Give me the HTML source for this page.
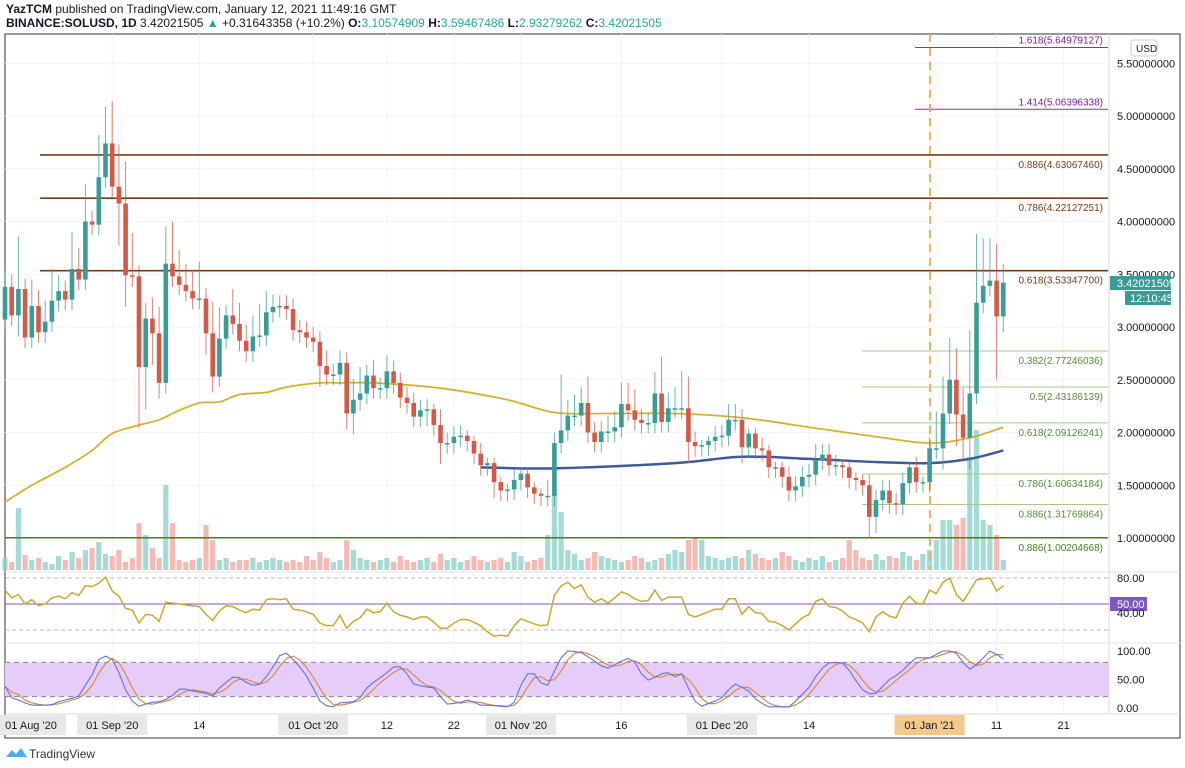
<!DOCTYPE html>
<html><head><meta charset="utf-8"><style>
body{margin:0;background:#fff;width:1185px;height:768px;overflow:hidden;font-family:"Liberation Sans",sans-serif}
svg{display:block}
</style></head><body>
<svg id="c" width="1185" height="768" xmlns="http://www.w3.org/2000/svg" font-family="Liberation Sans, sans-serif">
<text x="6" y="13" font-size="12" fill="#131722"><tspan font-weight="bold">YazTCM</tspan> published on TradingView.com, January 12, 2021 11:49:16 GMT</text>
<text x="6" y="27" font-size="12" fill="#131722"><tspan font-weight="bold">BINANCE:SOLUSD, 1D</tspan> 3.42021505 <tspan fill="#26a69a">▲</tspan> +0.31643358 (+10.2%) <tspan font-weight="bold">O:</tspan><tspan fill="#26a69a">3.10574909</tspan> <tspan font-weight="bold">H:</tspan><tspan fill="#26a69a">3.59467486</tspan> <tspan font-weight="bold">L:</tspan><tspan fill="#26a69a">2.93279262</tspan> <tspan font-weight="bold">C:</tspan><tspan fill="#26a69a">3.42021505</tspan></text>
<rect x="5" y="34" width="1175" height="704" fill="none" stroke="#555" stroke-width="1.2"/>
<line x1="1109" y1="34" x2="1109" y2="714" stroke="#d8d8d8"/>
<line x1="5" y1="572" x2="1180" y2="572" stroke="#e0e3eb"/>
<line x1="5" y1="643" x2="1180" y2="643" stroke="#e0e3eb"/>
<line x1="5" y1="714" x2="1180" y2="714" stroke="#d8d8d8"/>
<g id="grid"></g><g id="vol"></g><g id="levels"></g><g id="ma"></g><g id="candles"></g><g id="rsi"></g><g id="stoch"></g><g id="axes"></g>
<g>
<path d="M6 757 l6-7 4 4 5-6 6 9z" fill="#2196f3" opacity="0.8"/>
<text x="29" y="758" font-size="12" fill="#333">TradingView</text></g>
</svg>
<script>
const NS="http://www.w3.org/2000/svg";
const closes=[3.38,3.11,3.36,2.9,3.2,2.95,3.05,3.25,3.34,3.26,3.55,3.45,4.0,3.97,4.42,4.74,4.33,4.17,3.49,3.48,2.62,3.08,2.94,2.47,3.6,3.48,3.4,3.34,3.27,3.27,2.94,2.53,2.89,3.11,3.03,2.87,2.77,2.91,2.92,3.14,3.19,3.2,3.17,2.97,2.95,2.9,2.86,2.63,2.55,2.55,2.66,2.18,2.31,2.37,2.54,2.42,2.42,2.58,2.47,2.33,2.28,2.15,2.21,2.22,2.07,1.9,1.9,1.96,1.97,1.92,1.8,1.69,1.71,1.53,1.45,1.46,1.55,1.61,1.48,1.42,1.4,1.4,1.9,2.02,2.16,2.16,2.28,2.0,1.91,2.01,2.01,2.05,2.27,2.21,2.12,2.09,2.09,2.37,2.1,2.23,2.23,2.23,1.91,1.87,1.88,1.92,1.96,1.97,2.12,2.12,1.86,1.99,1.85,1.83,1.67,1.67,1.58,1.45,1.49,1.58,1.6,1.74,1.79,1.69,1.69,1.67,1.57,1.55,1.5,1.2,1.36,1.45,1.33,1.32,1.52,1.67,1.53,1.53,1.85,1.85,2.18,2.5,2.17,1.95,2.37,3.23,3.39,3.44,3.1,3.42];
const firstOpen=3.07;
const upWick=[.15,.12,.5,.1,.25,.15,.2,.3,.15,.1,.35,.2,.35,.1,.4,.35,.4,.4,.4,.4,.1,.15,.2,.25,.35,.4,.25,.2,.2,.35,.1,.3,.3,.1,.25,.2,.15,.2,.3,.2,.12,.1,.1,.1,.1,.1,.1,.1,.15,.1,.12,.1,.2,.25,.1,.15,.1,.15,.1,.1,.1,.1,.1,.1,.05,.15,.1,.1,.1,.05,.05,.1,.05,.05,.05,.05,.1,.05,.05,.05,.05,.15,.1,.53,.15,.2,.15,.25,.1,.1,.15,.15,.2,.2,.2,.1,.1,.2,.35,.15,.2,.35,.3,.1,.05,.05,.1,.1,.15,.15,.1,.05,.05,.1,.05,.05,.05,.1,.1,.1,.1,.15,.1,.1,.1,.05,.05,.05,.05,.1,.1,.1,.1,.1,.1,.05,.1,.05,.1,.35,.35,.4,.3,.25,.6,.65,.45,.4,.35,.18];
const dnWick=[.1,.1,.2,.1,.1,.1,.1,.1,.1,.1,.1,.1,.1,.1,.1,.1,.1,.4,.3,.1,.58,.4,.3,.15,.1,.1,.1,.1,.1,.1,.2,.15,.1,.1,.1,.1,.1,.1,.1,.1,.1,.1,.1,.1,.1,.1,.1,.2,.1,.1,.1,.15,.2,.1,.1,.1,.1,.1,.1,.1,.1,.1,.1,.15,.1,.2,.1,.1,.1,.1,.1,.1,.1,.15,.1,.1,.1,.1,.1,.1,.1,.1,.1,.1,.1,.1,.1,.1,.1,.1,.1,.1,.1,.1,.1,.1,.1,.1,.1,.1,.1,.1,.2,.1,.1,.1,.1,.1,.1,.1,.15,.1,.1,.1,.1,.1,.1,.1,.1,.1,.1,.1,.1,.1,.1,.1,.1,.1,.1,.2,.15,.1,.1,.1,.1,.1,.1,.1,.1,.1,.2,.1,.3,.2,.3,.1,.1,.1,.6,.15];
const volumes=[12,8,62,15,10,12,8,6,14,10,18,12,20,22,28,16,14,20,8,12,47,35,22,12,85,47,10,8,10,12,45,30,10,12,8,10,10,12,8,10,12,10,8,10,8,14,10,18,12,8,10,30,20,12,10,8,10,12,8,14,10,8,10,12,8,16,10,12,8,10,14,10,8,10,12,8,18,14,8,10,12,35,77,58,20,16,10,12,18,14,12,10,8,10,14,12,8,10,12,16,20,18,30,32,30,14,12,10,12,14,12,20,16,12,10,12,18,14,10,8,12,10,14,8,10,12,30,20,12,10,16,10,14,12,18,14,10,16,20,30,50,50,45,52,113,140,50,45,35,10];
const rsiVals=[66,57,61,50,55,48,50,57,59,56,63,60,71,70,74,81,65,59,45,43,28,38,37,30,52,51,50,49,48,47,38,31,42,48,47,43,40,44,43,55,56,55,56,44,43,41,38,28,25,25,37,22,30,34,44,40,41,51,41,37,35,32,35,35,29,22,22,28,32,32,29,25,18,13,14,13,25,33,30,27,25,26,60,71,75,68,72,58,52,56,51,57,64,61,56,53,54,66,54,58,58,58,38,35,38,41,44,44,56,56,38,47,40,39,30,29,25,20,27,34,38,53,56,47,46,42,35,32,28,18,35,41,36,34,51,59,51,50,66,62,75,80,61,53,65,78,79,80,65,71];
const stochK=[38,18,14,9,5,5,5,6,11,14,17,21,40,58,85,91,85,62,32,12,3,7,10,11,15,22,33,33,30,28,26,21,35,45,54,53,45,40,42,55,72,92,96,85,72,56,35,12,4,2,9,10,11,18,35,45,53,62,72,72,60,42,39,37,35,20,7,8,10,14,10,5,5,4,3,2,10,40,60,60,44,40,65,88,100,99,97,90,82,74,70,76,82,87,80,60,49,54,60,62,55,60,35,12,3,8,12,18,32,42,36,30,16,8,2,2,2,2,12,24,36,55,70,79,80,79,66,48,32,25,26,38,50,57,66,78,88,88,88,94,100,100,96,80,68,76,88,100,94,86];
const maDays=[0,4,9,13,16,20,23,26,29,32,35,39,42,47,50,55,65,75,82,90,100,110,120,130,138,144,149];
const maVals=[1.34,1.50,1.67,1.83,1.99,2.07,2.12,2.21,2.28,2.29,2.36,2.38,2.43,2.47,2.47,2.47,2.42,2.31,2.19,2.18,2.18,2.14,2.05,1.96,1.9,1.95,2.05];
const ma2Days=[71,82,100,110,120,130,138,144,149];
const ma2Vals=[1.67,1.66,1.71,1.77,1.75,1.72,1.71,1.75,1.83];
const priceTicks=[5.5,5.0,4.5,4.0,3.5,3.0,2.5,2.0,1.5,1.0];
const fibLevels=[1.618,1.414,0.886,0.786,0.618,0.382,0.5,0.618,0.786,0.886,0.886];
const fibPrices=[5.64979127,5.06396338,4.63067460,4.22127251,3.53347700,2.77246036,2.43186139,2.09126241,1.60634184,1.31769864,1.00204668];
const fibKinds=["p","p","b","b","b","g","g","g","g","g","G"];
const timeLabels=["01 Aug '20","01 Sep '20","14","01 Oct '20","12","22","01 Nov '20","16","01 Dec '20","14","01 Jan '21","11","21"];
const timeDays=[-15,16,29,46,57,67,77,92,107,120,138,148,158];
const rsiTicks=[80,50,40];
const stochTicks=[100,50,0];

const x=i=>5+6.7*i;
const y=p=>538-(p-1)*105.5;
const ry=v=>604-(v-50)*0.867;
const sy=v=>708-v*0.57;
function el(tag,attrs,parent,txt){const e=document.createElementNS(NS,tag);for(const k in attrs)e.setAttribute(k,attrs[k]);if(txt!==undefined)e.textContent=txt;document.getElementById(parent).appendChild(e);return e;}
function smoothPath(pts){let d='M'+pts[0][0]+','+pts[0][1];for(let i=0;i<pts.length-1;i++){const p0=pts[i-1]||pts[i],p1=pts[i],p2=pts[i+1],p3=pts[i+2]||p2;
d+=' C'+(p1[0]+(p2[0]-p0[0])/6)+','+(p1[1]+(p2[1]-p0[1])/6)+' '+(p2[0]-(p3[0]-p1[0])/6)+','+(p2[1]-(p3[1]-p1[1])/6)+' '+p2[0]+','+p2[1];}return d;}

// grid
priceTicks.forEach(p=>{const g=el('line',{x1:5,x2:1109,y1:y(p),y2:y(p),stroke:'#f0f3fa'},'grid');

});
timeDays.forEach(d=>{if(d<0)return;const g=el('line',{x1:x(d),x2:x(d),y1:34,y2:714,stroke:'#f0f3fa'},'grid');

});

// volume
volumes.forEach((v,i)=>{const o=i?closes[i-1]:firstOpen;const up=closes[i]>=o;
const r=el('rect',{x:x(i)-2.6,y:570-v,width:5.2,height:v,fill:up?'#8fd1cb':'#f2a9a3',opacity:0.8},'vol');

});

// fib levels
fibPrices.forEach((p,k)=>{const kind=fibKinds[k];let x1,col,w,tc;
if(kind==='p'){x1=915;col='#9c27b0';w=1;tc='#7b1fa2';}else if(kind==='b'){x1=40;col='#7a3b12';w=1.6;tc='#7a3b12';}else if(kind==='G'){x1=5;col='#4c7a20';w=1.5;tc='#4c7a20';}else{x1=862;col='#a5c98a';w=1;tc='#5a8a3a';}
const l=el('line',{x1:x1,x2:1108,y1:y(p),y2:y(p),stroke:col,'stroke-width':w},'levels');


const t=el('text',{x:1103,y:kind==='p'?y(p)-4:y(p)+13,'font-size':10,'text-anchor':'end',fill:tc},'levels',fibLevels[k]+'('+p.toFixed(8)+')');

});
const vl=el('line',{x1:930,x2:930,y1:34,y2:570,stroke:'#f0b060','stroke-width':2,'stroke-dasharray':'8,6'},'levels');



// MAs
const m1=el('path',{d:smoothPath(maDays.map((d,k)=>[x(d),y(maVals[k])])),fill:'none',stroke:'#d4b22e','stroke-width':1.8},'ma');


const m2=el('path',{d:smoothPath(ma2Days.map((d,k)=>[x(d),y(ma2Vals[k])])),fill:'none',stroke:'#3f5a9a','stroke-width':2.5},'ma');



// candles
closes.forEach((c,i)=>{const o=i?closes[i-1]:firstOpen;const up=c>=o;const col=up?'#3a9c96':'#d25a48';
const hi=Math.max(o,c)+upWick[i],lo=Math.min(o,c)-dnWick[i];
const w=el('line',{x1:x(i),x2:x(i),y1:y(hi),y2:y(lo),stroke:col,'stroke-width':1,opacity:0.75},'candles');


const top=y(Math.max(o,c)),bh=Math.max(1.5,Math.abs(y(o)-y(c)));
const b=el('rect',{x:x(i)-2.3,y:top,width:4.6,height:bh,fill:col},'candles');

});

// RSI
[80,20].forEach(v=>{const l=el('line',{x1:5,x2:1109,y1:ry(v),y2:ry(v),stroke:'#bbb','stroke-dasharray':'4,3'},'rsi');

});
const r50=el('line',{x1:5,x2:1109,y1:ry(50),y2:ry(50),stroke:'#7e57c2','stroke-width':1},'rsi');


const rl=el('polyline',{points:rsiVals.map((v,i)=>x(i)+','+ry(v)).join(' '),fill:'none',stroke:'#c9a932','stroke-width':1.5},'rsi');



// Stoch
const band=el('rect',{x:5,y:sy(80),width:1104,height:sy(20)-sy(80),fill:'#e6cdf9'},'stoch');


[80,20].forEach(v=>{const l=el('line',{x1:5,x2:1109,y1:sy(v),y2:sy(v),stroke:'#888','stroke-dasharray':'5,4'},'stoch');

});
const stochD=stochK.map((v,i)=>{const a=stochK.slice(Math.max(0,i-2),i+1);return a.reduce((s,q)=>s+q,0)/a.length;});
const dl=el('polyline',{points:stochD.map((v,i)=>x(i)+','+sy(v)).join(' '),fill:'none',stroke:'#d98b4a','stroke-width':1.2},'stoch');


const kl=el('polyline',{points:stochK.map((v,i)=>x(i)+','+sy(v)).join(' '),fill:'none',stroke:'#6272e0','stroke-width':1.1},'stoch');



// axes
priceTicks.forEach(p=>{const t=el('text',{x:1117,y:y(p)+4,'font-size':11,fill:'#131722'},'axes',p.toFixed(8));

});
const usd=el('rect',{x:1131,y:40,width:26,height:16,rx:3,fill:'#fff',stroke:'#ccc'},'axes');


el('text',{x:1136,y:52,'font-size':10,fill:'#131722'},'axes','USD');
const pl=el('rect',{x:1110,y:276,width:61,height:14,fill:'#3a9c96'},'axes');


el('text',{x:1117,y:287,'font-size':11,fill:'#fff'},'axes','3.42021505');
const cd=el('rect',{x:1125,y:291,width:46,height:14,fill:'#3a9c96'},'axes');


el('text',{x:1130,y:302,'font-size':11,fill:'#fff'},'axes','12:10:45');
rsiTicks.forEach(v=>{if(v===50){const b=el('rect',{x:1110,y:ry(v)-7,width:37,height:14,fill:'#7e57c2'},'axes');

}
const t=el('text',{x:1117,y:(v===40?613:ry(v))+4,'font-size':11,fill:v===50?'#fff':'#131722'},'axes',v.toFixed(2));

});
stochTicks.forEach(v=>{const t=el('text',{x:1117,y:sy(v)+4,'font-size':11,fill:'#131722'},'axes',v.toFixed(2));

});
timeLabels.forEach((s,k)=>{const d=timeDays[k];let cx=d<0?31:x(d);const box=s.startsWith('01');
if(box){const w=s.length*6.2+8;const b=el('rect',{x:cx-w/2,y:715,width:w,height:20,fill:s.indexOf("Jan")>=0?'#f5c98a':'#e8e8e8'},'axes');

}
const t=el('text',{x:cx,y:729,'font-size':11,'text-anchor':'middle',fill:'#131722'},'axes',s);

});
</script>
</body></html>
